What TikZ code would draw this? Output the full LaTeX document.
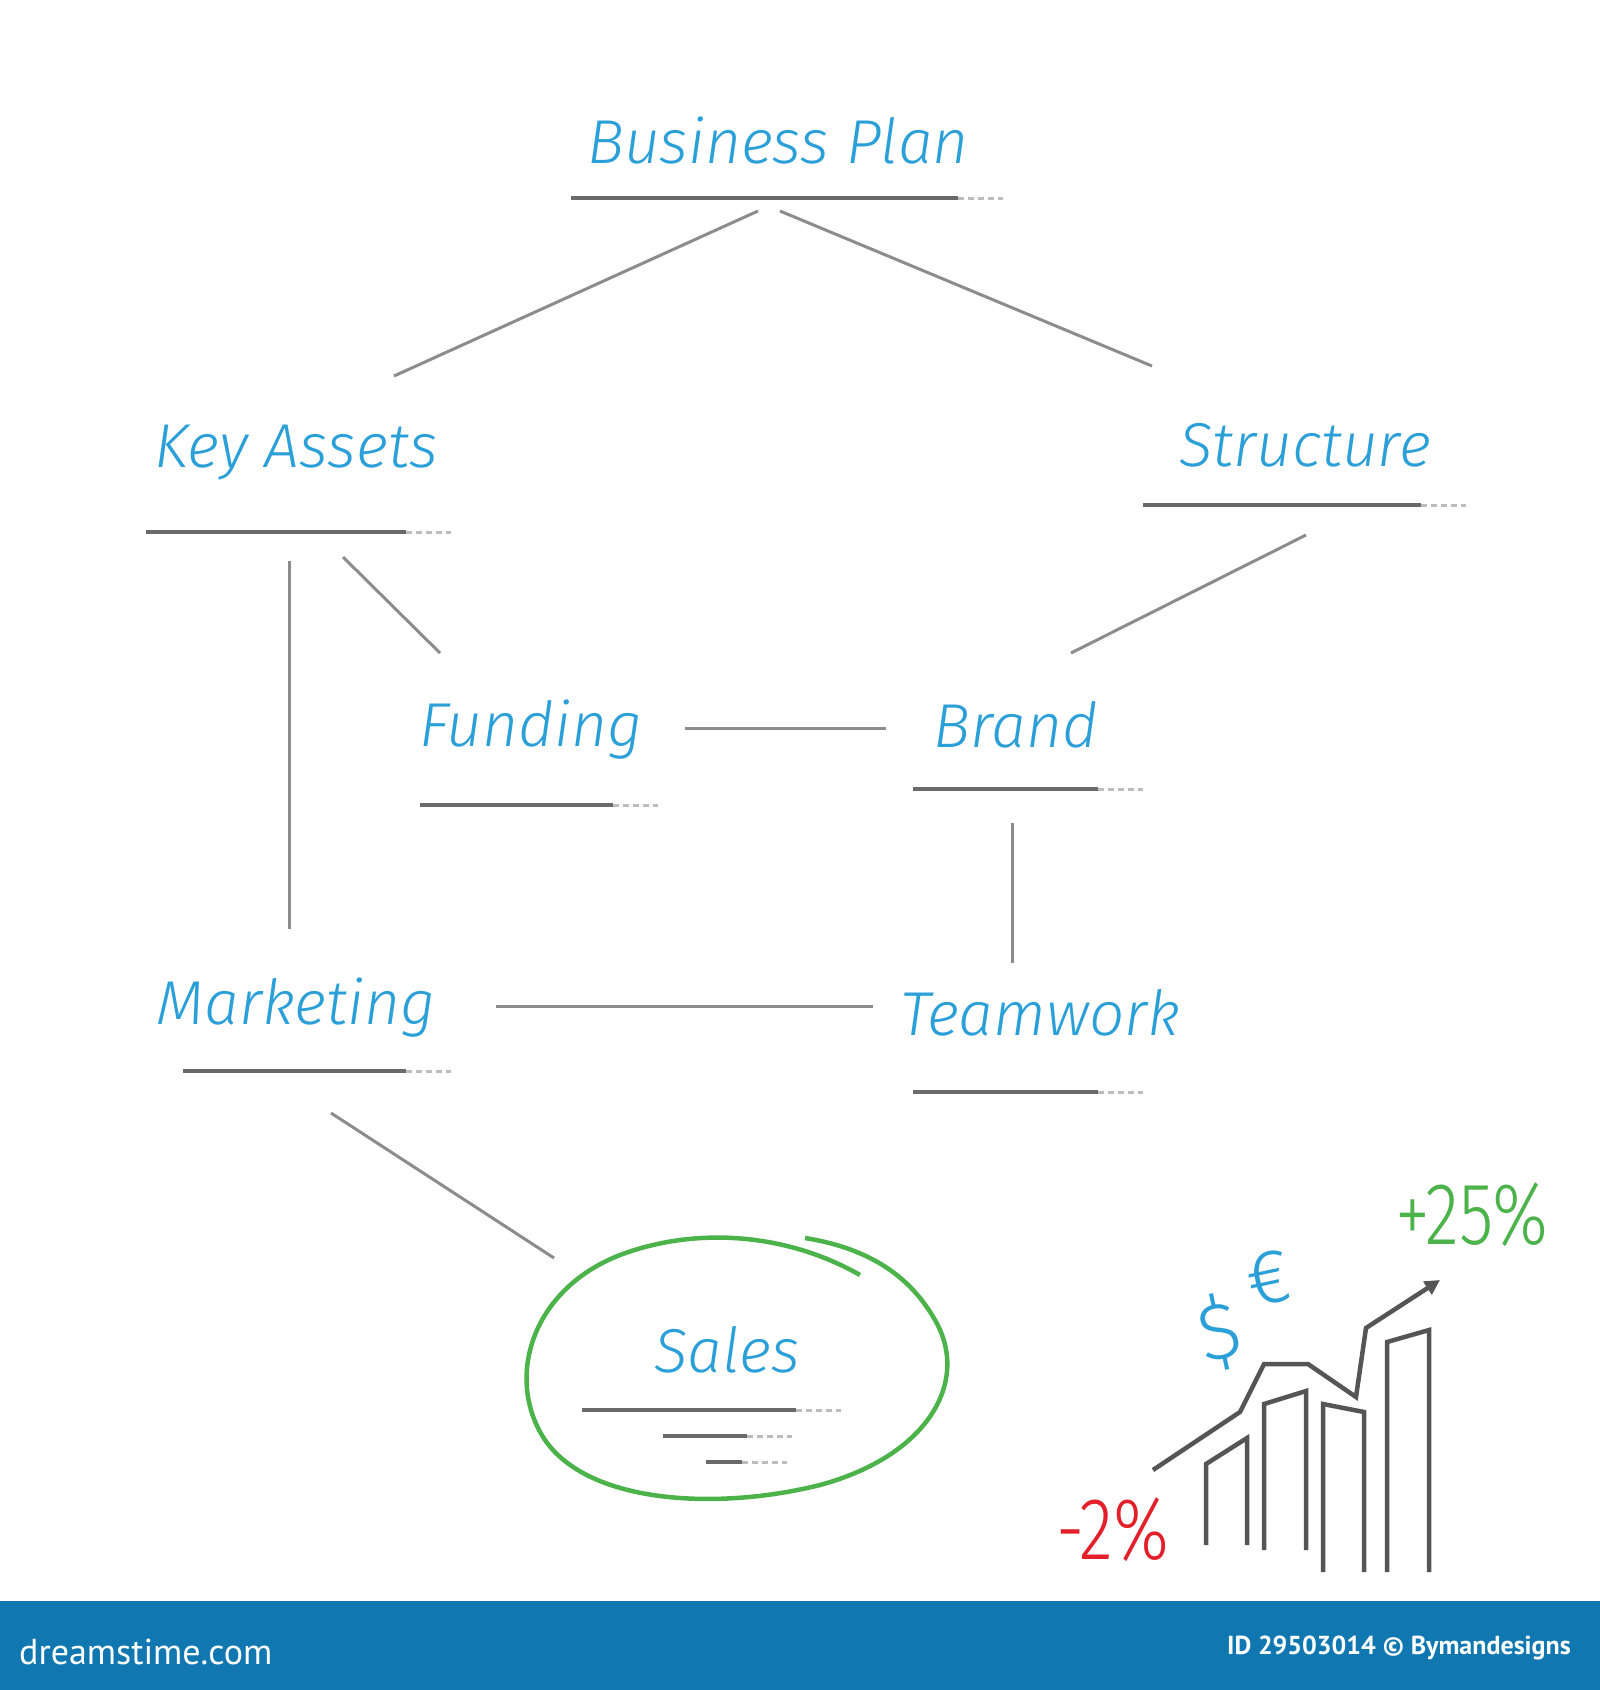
\documentclass[tikz,border=0pt]{standalone}
\usepackage{fontspec}
\usetikzlibrary{arrows.meta}
\setmainfont{Fira Sans}
\newfontfamily\hand{Fira Sans Light}[ItalicFont={Fira Sans Light Italic}]
\newfontfamily\barfont{PT Sans}
\definecolor{txtblue}{HTML}{2A9FD8}
\definecolor{lngray}{HTML}{8C8C8C}
\definecolor{ulgray}{HTML}{6A6A6A}
\definecolor{chgray}{HTML}{555555}
\definecolor{sgreen}{HTML}{4CB34A}
\definecolor{sred}{HTML}{E3202A}
\definecolor{barblue}{HTML}{1077B0}
\tikzset{
  label/.style={text=txtblue, font=\hand\itshape\fontsize{62}{70}\selectfont, inner sep=0pt},
  conn/.style={draw=lngray, line width=3pt},
  uline/.style={draw=ulgray, line width=4.5pt},
  ufade/.style={draw=ulgray!45, line width=3pt, dash pattern=on 6pt off 4pt},
  chart/.style={draw=chgray, line width=4.5pt, line join=miter},
  numtxt/.style={inner sep=0pt, font=\hand\fontsize{88}{90}\selectfont, xscale=0.8, transform shape},
}
\begin{document}
\begin{tikzpicture}[x=1pt,y=-1pt]
\useasboundingbox (0,0) rectangle (1600,1690);
\fill[white] (0,0) rectangle (1600,1690);
% labels
\node[label] (bp) at (778,140) {Business Plan};
\node[label] (ka) at (296,453) {Key Assets};
\node[label] (st) at (1305,445) {Structure};
\node[label] (fu) at (531,730) {Funding};
\node[label] (br) at (1016,725) {Brand};
\node[label] (mk) at (296,1008) {Marketing};
\node[label] (tw) at (1040,1013) {Teamwork};
\node[label] (sa) at (727,1350) {Sales};
% underlines
\foreach \a/\b/\y in {571/1003/198, 146/451/532, 1143/1466/505, 420/658/805, 913/1143/789, 183/451/1071, 913/1143/1092, 582/841/1410, 663/792/1436, 706/787/1462}{
  \draw[uline] (\a,\y) -- ({\b-45},\y);
  \draw[ufade] ({\b-45},\y) -- (\b,\y);
}
% connector endpoints
\coordinate (bpL) at (758,211); \coordinate (kaT) at (394,376);
\coordinate (bpR) at (780,211); \coordinate (stT) at (1152,366);
\coordinate (kaR) at (343,557); \coordinate (fuT) at (440,653);
\coordinate (kaB) at (289,561); \coordinate (mkT) at (289,929);
\coordinate (stB) at (1306,535); \coordinate (brT) at (1071,653);
\coordinate (fuR) at (685,728); \coordinate (brL) at (886,728);
\coordinate (brB) at (1012,823); \coordinate (twT) at (1012,963);
\coordinate (mkR) at (496,1006); \coordinate (twL) at (873,1006);
\coordinate (mkB) at (331,1113); \coordinate (saT) at (554,1258);
\draw[conn] (bpL) -- (kaT);
\draw[conn] (bpR) -- (stT);
\draw[conn] (kaR) -- (fuT);
\draw[conn] (kaB) -- (mkT);
\draw[conn] (stB) -- (brT);
\draw[conn] (fuR) -- (brL);
\draw[conn] (brB) -- (twT);
\draw[conn] (mkR) -- (twL);
\draw[conn] (mkB) -- (saT);
% green circle
\draw[sgreen, line width=4.5pt] (860,1275) .. controls (790,1235) and (700,1225) .. (620,1255)
  .. controls (530,1290) and (505,1380) .. (545,1440)
  .. controls (590,1505) and (720,1510) .. (820,1485)
  .. controls (930,1455) and (970,1380) .. (935,1320)
  .. controls (915,1285) and (880,1250) .. (805,1238);
% chart
\draw[chart] (1206,1545) -- (1206,1464) -- (1247,1438) -- (1247,1545);
\draw[chart] (1264,1550) -- (1264,1404) -- (1306,1391) -- (1306,1550);
\draw[chart] (1323,1572) -- (1323,1404) -- (1364,1412) -- (1364,1572);
\draw[chart] (1387,1572) -- (1387,1342) -- (1429,1330) -- (1429,1572);
\coordinate (c0) at (1153,1470);
\coordinate (c6) at (1440,1280);
\draw[chart, -{Triangle[length=15pt,width=15pt]}] (c0) -- (1240,1412) -- (1264,1364) -- (1308,1364) -- (1356,1397) -- (1366,1328) -- (c6);
\node[numtxt, text=sred] (m2) at (1113,1530) {-2\%};
\node[text=txtblue, font=\hand\fontsize{80}{84}\selectfont, inner sep=0pt, rotate=12] (dol) at (1220,1332) {\$};
\node[text=txtblue, font=\hand\fontsize{76}{80}\selectfont, inner sep=0pt, rotate=12] (eur) at (1268,1278) {€};
\node[numtxt, text=sgreen] (p25) at (1472,1215) {+25\%};
% bottom bar
\fill[barblue] (0,1601) rectangle (1600,1690);
\node[text=white, font=\barfont\fontsize{36}{40}\selectfont, anchor=west, inner sep=0pt] (ds) at (19,1652) {dreamstime.com};
\node[text=white, font=\barfont\bfseries\fontsize{26}{30}\selectfont, anchor=east, inner sep=0pt] (id) at (1571,1648) {ID 29503014 © Bymandesigns};
\end{tikzpicture}
\end{document}
